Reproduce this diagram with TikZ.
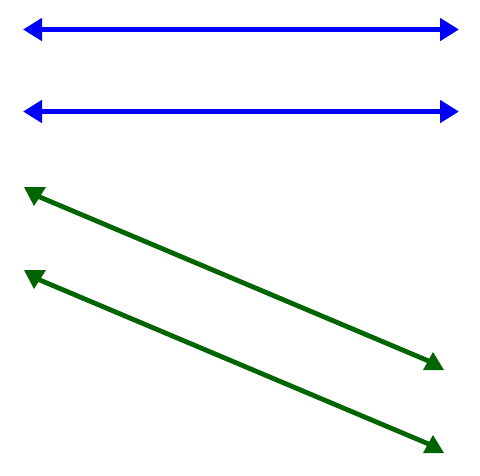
\documentclass[tikz,border=0pt]{standalone}
\usetikzlibrary{arrows.meta}
\definecolor{dkgreen}{RGB}{0,100,0}
\begin{document}
\begin{tikzpicture}[x=1pt,y=-1pt,line join=round,>={Triangle[length=19pt,width=22pt]}]
        \useasboundingbox (0,0) rectangle (480,475);
        % blue arrows, both ends
        \foreach \y/\n in {29.5/a,111.5/b} {
                \coordinate (L\n) at (23,\y);
                \coordinate (R\n) at (459,\y);
                \draw[blue,line width=5.3pt,<->] (L\n)--(R\n);
        }
        % green arrows, heads upright
        \foreach \y/\n in {0/c,83/d} {
                \coordinate (S\n) at (35,195+\y);
                \coordinate (E\n) at (431,362+\y);
                \draw[dkgreen,line width=4.8pt] (S\n)--(E\n);
                \fill[dkgreen] (24,187+\y)--(46,187+\y)--(34,206+\y)--cycle;
                \fill[dkgreen] (423,370+\y)--(444,370+\y)--(433,352+\y)--cycle;
        }
\end{tikzpicture}
\end{document}
